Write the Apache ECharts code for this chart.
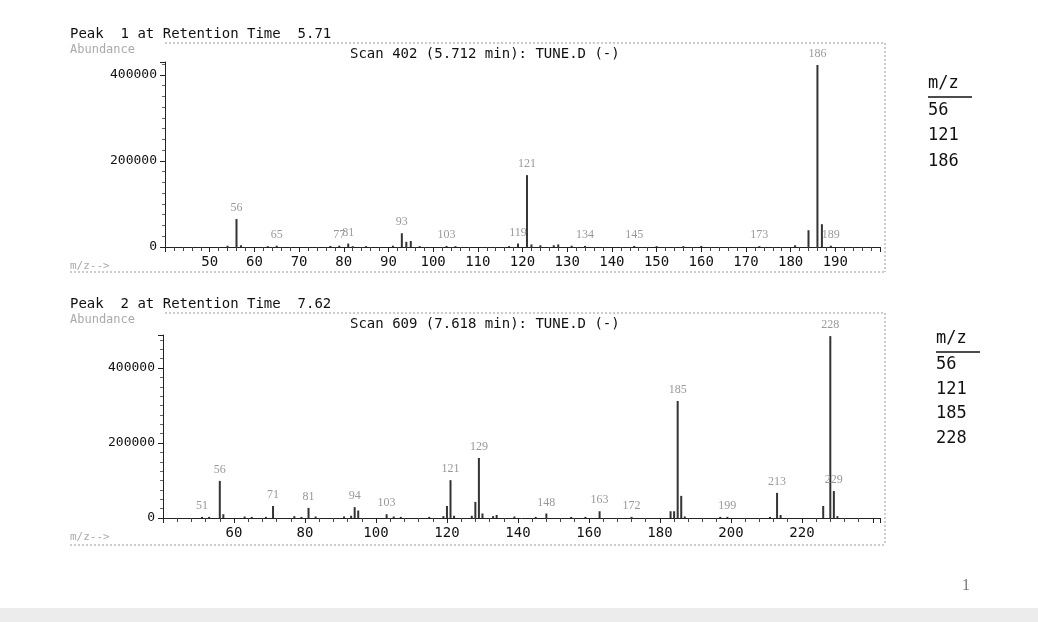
<!DOCTYPE html><html><head><meta charset="utf-8">
<script src="https://cdn.jsdelivr.net/npm/echarts@6/dist/echarts.min.js"></script>
<style>body{margin:0;background:#fff}#c{width:1038px;height:622px}</style></head><body><div id="c"></div>
<script>
const mz1=[54,56,57,63,65,77,79,81,82,85,91,93,94,95,97,103,105,117,119,121,122,124,127,128,131,134,145,150,156,160,173,181,184,186,187,189];
const ab1=[3000,65000,4000,2000,3000,2500,3000,8000,2000,2000,3000,32000,12000,14000,2000,2500,2000,2000,8000,167000,6000,4000,4000,6000,3000,2500,2500,2000,2000,2500,2000,4000,39000,423000,53000,3000];
const lab1={56:'56',65:'65',79:'77',81:'81',93:'93',103:'103',119:'119',134:'134',145:'145',159:'1580',173:'173',189:'189',121:'121',186:'186'};
const mz2=[51,53,56,57,63,65,69,71,77,79,81,83,91,93,94,95,103,105,107,115,119,120,121,122,127,128,129,130,133,134,139,145,148,155,159,163,172,183,184,185,186,187,197,199,211,213,214,226,228,229,230];
const ab2=[3000,3000,99000,10000,4000,3000,3000,32000,5000,3000,27000,4000,4000,6000,29000,20000,10000,4000,3000,3000,5000,32000,101000,6000,6000,43000,160000,12000,5000,8000,4000,3000,12000,3000,3000,18000,3000,18000,18000,312000,59000,4000,3000,3000,3000,67000,8000,32000,485000,72000,5000];
const lab2={51:'51',56:'56',71:'71',81:'81',94:'94',103:'103',121:'121',129:'129',148:'148',163:'163',172:'172',185:'185',199:'199',213:'213',228:'228',229:'229'};
const mono='DejaVu Sans Mono';
function ser(mz,ab,lab,gi){return{type:'bar',xAxisIndex:gi,yAxisIndex:gi,barWidth:2,barGap:'-100%',itemStyle:{color:'#333'},
 data:mz.map((m,i)=>({value:[m,ab[i]],label:{show:!!lab[m],formatter:lab[m]||'',position:'top',color:'#999',fontFamily:'Liberation Serif',fontSize:12}}))};}
function xa(gi,min,max,iv){return{type:'value',gridIndex:gi,min:min,max:max,interval:iv,axisLine:{lineStyle:{color:'#222'}},axisTick:{inside:false,length:5,lineStyle:{color:'#222'}},
 minorTick:{show:true,splitNumber:5,length:4,lineStyle:{color:'#444'}},splitLine:{show:false},axisLabel:{fontFamily:mono,fontSize:14,color:'#111',margin:8,
 formatter:v=>(v<(gi?50:45)||v>(gi?230:195))?'':v}};}
function ya(gi,max){return{type:'value',gridIndex:gi,min:0,max:max,interval:200000,axisLine:{show:true,lineStyle:{color:'#222'}},axisTick:{show:true,length:5,lineStyle:{color:'#222'}},
 minorTick:{show:true,splitNumber:8,length:3,lineStyle:{color:'#666'}},splitLine:{show:false},axisLabel:{fontFamily:mono,fontSize:13,color:'#111',margin:8,
 formatter:v=>v%200000?'':String(v)}};}
const txt=(x,y,t,o)=>({type:'text',left:x,top:y,style:Object.assign({text:t,font:'14px "DejaVu Sans Mono"',fill:'#111'},o||{})});
const ch=echarts.init(document.getElementById('c'));
ch.setOption({animation:false,
grid:[{left:165,right:158,top:62,height:185},{left:163,right:158,top:335,height:183}],
xAxis:[xa(0,40,200,10),xa(1,40,242,20)],
yAxis:[ya(0,430000),ya(1,488000)],
series:[ser(mz1,ab1,lab1,0),ser(mz2,ab2,lab2,1)],
graphic:[
 txt(70,27,'Peak  1 at Retention Time  5.71'),txt(70,44,'Abundance',{fill:'#aaa',font:'12px "DejaVu Sans Mono"'}),
 txt(350,47,'Scan 402 (5.712 min): TUNE.D (-)'),txt(70,261,'m/z-->',{fill:'#aaa',font:'11px "DejaVu Sans Mono"'}),
 txt(70,297,'Peak  2 at Retention Time  7.62'),txt(70,314,'Abundance',{fill:'#aaa',font:'12px "DejaVu Sans Mono"'}),
 txt(350,317,'Scan 609 (7.618 min): TUNE.D (-)'),txt(70,532,'m/z-->',{fill:'#aaa',font:'11px "DejaVu Sans Mono"'}),
 {type:'line',shape:{x1:165,y1:43,x2:885,y2:43},style:{stroke:'#999',lineDash:[2,2]}},
 {type:'line',shape:{x1:70,y1:272,x2:885,y2:272},style:{stroke:'#999',lineDash:[2,2]}},
 {type:'line',shape:{x1:885,y1:43,x2:885,y2:272},style:{stroke:'#999',lineDash:[2,2]}},
 {type:'line',shape:{x1:165,y1:313,x2:885,y2:313},style:{stroke:'#999',lineDash:[2,2]}},
 {type:'line',shape:{x1:70,y1:545,x2:885,y2:545},style:{stroke:'#999',lineDash:[2,2]}},
 {type:'line',shape:{x1:885,y1:313,x2:885,y2:545},style:{stroke:'#999',lineDash:[2,2]}},
 txt(928,75,'m/z',{font:'17px "DejaVu Sans Mono"'}),{type:'line',shape:{x1:928,y1:97,x2:972,y2:97},style:{stroke:'#111',lineWidth:1.5}},
 txt(928,102,'56',{font:'17px "DejaVu Sans Mono"'}),txt(928,127,'121',{font:'17px "DejaVu Sans Mono"'}),txt(928,153,'186',{font:'17px "DejaVu Sans Mono"'}),
 txt(936,330,'m/z',{font:'17px "DejaVu Sans Mono"'}),{type:'line',shape:{x1:936,y1:352,x2:980,y2:352},style:{stroke:'#111',lineWidth:1.5}},
 txt(936,356,'56',{font:'17px "DejaVu Sans Mono"'}),txt(936,381,'121',{font:'17px "DejaVu Sans Mono"'}),txt(936,405,'185',{font:'17px "DejaVu Sans Mono"'}),txt(936,430,'228',{font:'17px "DejaVu Sans Mono"'}),
 txt(962,578,'1',{font:'16px "Liberation Serif"',fill:'#777'}),
 {type:'rect',shape:{x:0,y:608,width:1038,height:14},style:{fill:'#ececec'}}
]});
</script></body></html>
